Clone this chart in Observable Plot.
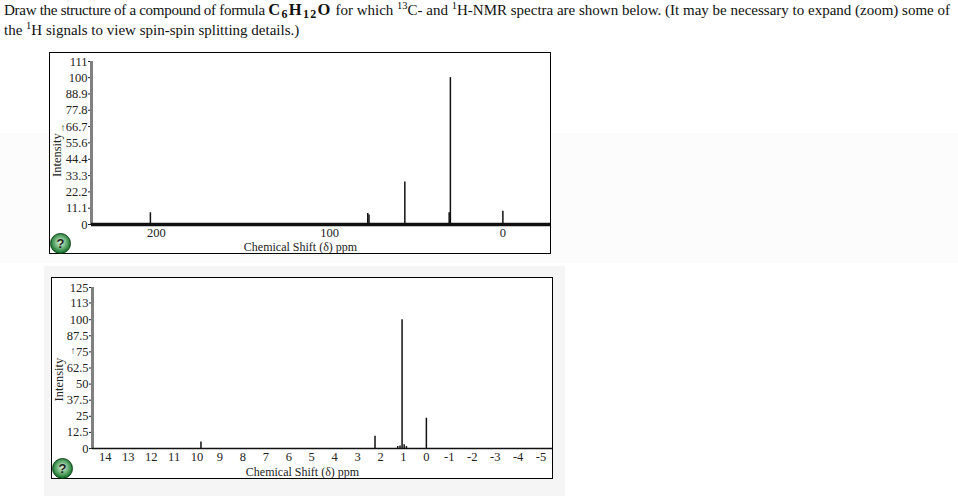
<!DOCTYPE html>
<html><head><meta charset="utf-8">
<script src="https://cdn.jsdelivr.net/npm/d3@7"></script>
<script src="https://cdn.jsdelivr.net/npm/@observablehq/plot@0.6"></script>
<style>
html,body{margin:0;padding:0;background:#fff;width:958px;height:496px;overflow:hidden;position:relative;font-family:"Liberation Serif",serif;}
#q{position:absolute;left:4px;top:0;font-size:15px;line-height:20px;color:#111;white-space:nowrap;}
#q .a{font-size:15.1px;letter-spacing:-0.32px;}
#q b{font-size:16.5px;letter-spacing:1.3px;}
#q sup{font-size:10.5px;line-height:0;vertical-align:baseline;position:relative;top:-6px;}
#q sub{font-size:12px;line-height:0;vertical-align:baseline;position:relative;top:3px;}
#panel{position:absolute;left:44px;top:266px;width:521px;height:230px;background:#f5f5f5;}
#band{position:absolute;left:0;top:133px;width:958px;height:130px;background:#fcfcfc;}
.box{position:absolute;border:1px solid #000;background:#fff;}
.box svg{display:block;}
.help{position:absolute;width:21px;height:21px;border-radius:50%;box-sizing:border-box;border:1px solid #0a3d14;
background:radial-gradient(circle at 50% 45%,#e4f2e5 0%,#8cc595 30%,#1d7a32 70%,#0f5a20 100%);
font:bold 13px/19px "Liberation Sans",sans-serif;color:#222;text-align:center;}
</style></head><body>
<div id="band"></div><div id="panel"></div>
<div id="q"><span class="a">Draw the structure of a compound of formula </span><b>C<sub>6</sub>H<sub>12</sub>O</b> for which <sup>13</sup>C- and <sup>1</sup>H-NMR spectra are shown below. (It may be necessary to expand (zoom) some of<br>the <sup>1</sup>H signals to view spin-spin splitting details.)</div>
<div class="box" id="c13" style="left:49px;top:52px"></div>
<div class="box" id="h1" style="left:51px;top:277px"></div>
<div class="help" style="left:50px;top:233px">?</div>
<div class="help" style="left:52px;top:458px">?</div>
<script>
const cShift = [203.5, 78, 77.3, 56.6, 31, 30.3, 0];
const cIntensity = [8, 7.5, 6.5, 29, 8, 100, 9];
const cYTicks = [0, 11.1, 22.2, 33.3, 44.4, 55.6, 66.7, 77.8, 88.9, 100, 111];
const cXTicks = [200, 100, 0];
const cXDomain = [237.5, -27.5];

const hShift = [9.83, 2.24, 1.25, 1.15, 1.06, 0.97, 0.87, 0];
const hIntensity = [5, 9.5, 1.5, 2, 100, 3, 1.5, 23.5];
const hYTicks = [0, 12.5, 25, 37.5, 50, 62.5, 75, 87.5, 100, 113, 125];
const hXTicks = [14,13,12,11,10,9,8,7,6,5,4,3,2,1,0,-1,-2,-3,-4,-5];
const hXDomain = [14.56, -5.5];

const FONT = "Liberation Serif";
function spectrum({shift, intensity, yTicks, xTicks, xDomain, yMax, width, height, mL, mT, mB, base, intY, intDx, arrowDy, arrowDx, labDy}) {
  const rows = shift.map((s, i) => ({s, v: intensity[i]}));
  return Plot.plot({
    width, height, marginLeft: mL, marginRight: 0, marginTop: mT, marginBottom: mB,
    style: {fontFamily: FONT, fontSize: "12.5px", color: "#222", background: "#fff"},
    x: {domain: xDomain, label: null},
    y: {domain: [0, yMax], label: null},
    marks: [
      Plot.axisX({ticks: xTicks, tickSize: 0, tickPadding: 4, tickFormat: d => d, label: null, fontSize: 12.5}),
      Plot.axisY({ticks: yTicks, tickSize: 3, tickPadding: 1, tickFormat: d => d, label: null, fontSize: 12.5}),
      Plot.ruleX([xDomain[0]], {y1: 0, y2: yMax, stroke: "#808080", strokeWidth: 3}),
      Plot.ruleY([0], {stroke: "#111", strokeWidth: base}),
      Plot.ruleX(rows, {x: "s", y1: 0, y2: "v", stroke: "#111", strokeWidth: 1.5}),
      Plot.text(["Intensity"], {frameAnchor: "left", rotate: -90, dx: intDx, dy: intY, fontSize: 12.5, fill: "#222"}),
      Plot.text(["↑"], {frameAnchor: "left", dx: arrowDx, dy: arrowDy, fontSize: 10, fill: "#222"}),
      Plot.text(["Chemical Shift (δ) ppm"], {frameAnchor: "bottom", dy: labDy, dx: -mL/2, fontSize: 12, fill: "#222"})
    ]
  });
}
document.getElementById("c13").append(spectrum({
  shift: cShift, intensity: cIntensity, yTicks: cYTicks, xTicks: cXTicks, xDomain: cXDomain, yMax: 111,
  width: 500, height: 200, mL: 41, mT: 8, mB: 29, base: 3.5,
  intY: 34, intDx: -35, arrowDy: -15, arrowDx: -31, labDy: 26
}));
document.getElementById("h1").append(spectrum({
  shift: hShift, intensity: hIntensity, yTicks: hYTicks, xTicks: hXTicks, xDomain: hXDomain, yMax: 125,
  width: 500, height: 200, mL: 40, mT: 9, mB: 30, base: 1.5,
  intY: 33.5, intDx: -34, arrowDy: -17, arrowDx: -22, labDy: 27
}));
</script>
</body></html>
